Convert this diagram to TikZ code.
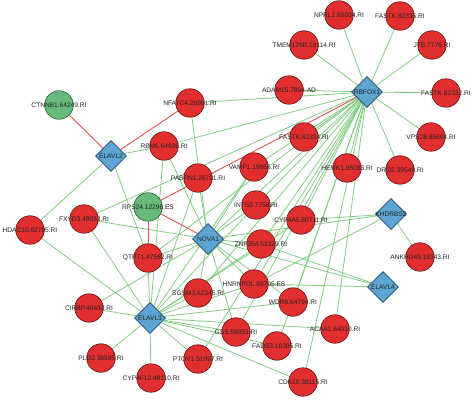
\documentclass[tikz,border=0pt]{standalone}
\usepackage{fontspec}
\setmainfont{Liberation Sans}
\usetikzlibrary{shapes.geometric}
\pgfdeclarelayer{bg}
\pgfsetlayers{bg,main}
\definecolor{evred}{RGB}{226,46,46}
\definecolor{evredline}{RGB}{100,22,22}
\definecolor{evgreen}{RGB}{104,186,122}
\definecolor{evgreenline}{RGB}{45,95,55}
\definecolor{hubblue}{RGB}{92,164,210}
\definecolor{hubline}{RGB}{35,70,100}
\definecolor{edgegreen}{RGB}{130,205,130}
\definecolor{edgered}{RGB}{222,85,85}
\definecolor{txt}{RGB}{35,35,35}
\tikzset{
  lbl/.style={font=\fontsize{6.6}{7}\selectfont, text=txt, inner sep=0pt},
  evt/.style={circle, draw=evredline, fill=evred, line width=0.6pt, minimum size=28.5pt, inner sep=0pt},
  gevt/.style={circle, draw=evgreenline, fill=evgreen, line width=0.6pt, minimum size=28.5pt, inner sep=0pt},
  hub/.style={diamond, draw=hubline, fill=hubblue, line width=0.6pt, minimum size=31pt, inner sep=0pt},
  ge/.style={draw=edgegreen, line width=0.8pt},
  re/.style={draw=edgered, line width=0.9pt}
}
\newcommand{\ev}[4][evt]{\node[#1, label={[lbl]center:#4}] (#2) at (#3) {};}
\begin{document}
\begin{tikzpicture}[x=1pt,y=-1pt]
\useasboundingbox (0,0) rectangle (474,406);
% hubs
\ev[hub]{RBFOX}{367,92}{RBFOX1}
\ev[hub]{ELAVLtwo}{111,156}{ELAVL2}
\ev[hub]{NOVA}{208,239}{NOVA1}
\ev[hub]{KHDRBS}{391,214}{KHDRBS2}
\ev[hub]{ELAVLfour}{383,287}{ELAVL4}
\ev[hub]{ELAVLthree}{150,318}{ELAVL3}
% events
\ev{NPRL}{339,15}{NPRL2.65034.RI}
\ev{FKfive}{400,16}{FASTK.82335.RI}
\ev{TMEM}{304,45}{TMEM126B.18114.RI}
\ev{JTB}{432,45}{JTB.7776.RI}
\ev{ADAM}{289,90}{ADAM15.7894.AD}
\ev{FKtwo}{446,93}{FASTK.82332.RI}
\ev{FKfour}{304,137}{FASTK.82334.RI}
\ev{VPS}{431,137}{VPS28.85604.RI}
\ev[gevt]{CTNNB}{59,105}{CTNNB1.64249.RI}
\ev{NFATC}{190,103}{NFATC4.26991.RI}
\ev{RBM}{164,146}{RBM6.64936.RI}
\ev{PABPN}{198,178}{PABPN1.26731.RI}
\ev{VAMP}{254,167}{VAMP1.19865.RI}
\ev{HEMK}{347,168}{HEMK1.65083.RI}
\ev{DRG}{400,170}{DRG2.39548.RI}
\ev[gevt]{RPS}{148,207}{RPS24.12296.ES}
\ev{FXYD}{84,219}{FXYD3.49033.RI}
\ev{HDAC}{30,230}{HDAC10.62795.RI}
\ev{INTS}{256,205}{INTS3.7758.RI}
\ev{CYPA}{301,220}{CYP4A5.80711.RI}
\ev{ZNF}{261,244}{ZNF354.52329.RI}
\ev{ANKRD}{420,257}{ANKRD49.18343.RI}
\ev{QTRT}{148,258}{QTRT1.47582.RI}
\ev{HNRNP}{254,284}{HNRNPDL.69705.ES}
\ev{SGSM}{198,293}{SGSM3.62345.RI}
\ev{WDR}{293,302}{WDR6.64794.RI}
\ev{CIRBP}{89,308}{CIRBP.46432.RI}
\ev{GSS}{236,332}{GSS.59053.RI}
\ev{ACAA}{335,329}{ACAA1.64010.RI}
\ev{FADS}{277,346}{FADS3.16305.RI}
\ev{PLD}{101,358}{PLD2.38595.RI}
\ev{PTOV}{198,359}{PTOV1.51097.RI}
\ev{CYPF}{151,378}{CYP4F12.48110.RI}
\ev{CDK}{303,382}{CDK10.38115.RI}
\begin{pgfonlayer}{bg}
\foreach \t in {NPRL,FKfive,TMEM,JTB,ADAM,FKtwo,FKfour,VPS,DRG,HEMK,NFATC,RBM,VAMP,INTS,CYPA,ZNF,HNRNP,WDR,ACAA,FADS,CDK,PTOV,FXYD,GSS,SGSM,QTRT,NOVA}
  \draw[ge] (RBFOX) -- (\t);
\foreach \t in {FXYD,CIRBP,RBM,PABPN,NFATC,QTRT,SGSM,ZNF,HNRNP,WDR,INTS,VAMP,ELAVLfour,KHDRBS,GSS}
  \draw[ge] (NOVA) -- (\t);
\foreach \t in {HDAC,FXYD,CIRBP,PLD,CYPF,PTOV,GSS,FADS,CDK,ACAA,WDR,HNRNP,SGSM,QTRT,ZNF,INTS,VAMP,RBM,PABPN,CYPA}
  \draw[ge] (ELAVLthree) -- (\t);
\foreach \t in {HNRNP,ZNF}
  \draw[ge] (ELAVLfour) -- (\t);
\foreach \t in {RBM,HDAC,QTRT}
  \draw[ge] (ELAVLtwo) -- (\t);
\foreach \t in {CYPA,ANKRD,HNRNP}
  \draw[ge] (KHDRBS) -- (\t);
\draw[re] (CTNNB) -- (ELAVLtwo);
\draw[re] (NFATC) -- (ELAVLtwo);
\draw[re] (RPS) -- (RBFOX);
\draw[re] (RPS) -- (NOVA);
\draw[re] (RPS) -- (QTRT);
\end{pgfonlayer}
\end{tikzpicture}
\end{document}
